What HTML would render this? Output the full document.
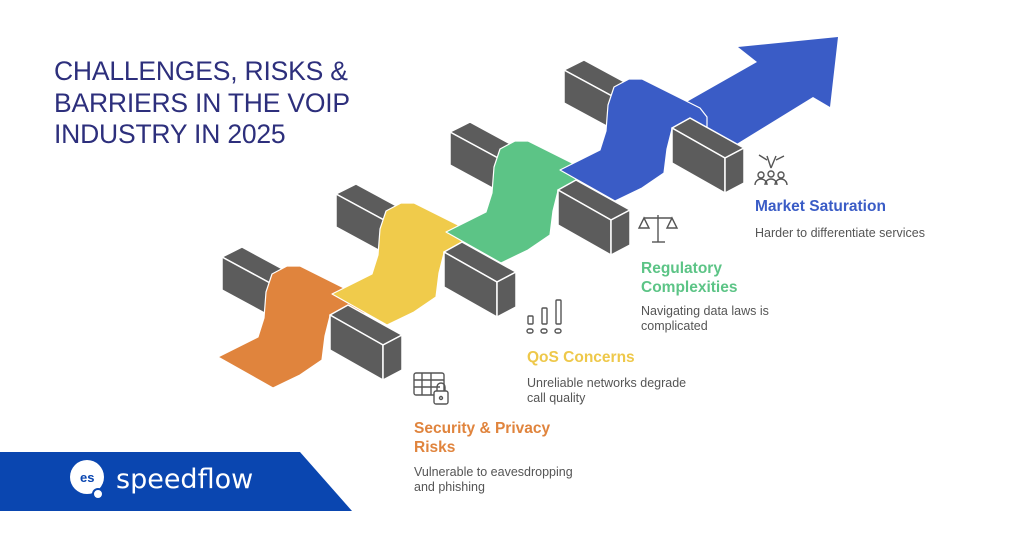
<!DOCTYPE html>
<html><head><meta charset="utf-8"><style>
html,body{margin:0;padding:0;background:#fff;}
body{width:1024px;height:535px;position:relative;overflow:hidden;font-family:"Liberation Sans",sans-serif;}
.t{position:absolute;left:54px;top:56px;font-size:26.5px;line-height:31.5px;color:#2d2f7c;letter-spacing:-0.2px;}
.h{position:absolute;font-weight:bold;font-size:15.5px;line-height:19px;}
.d{position:absolute;font-size:12.5px;line-height:15px;color:#555;}
</style></head><body>
<div class="t">CHALLENGES, RISKS &amp;<br>BARRIERS IN THE VOIP<br>INDUSTRY IN 2025</div>

<svg width="1024" height="535" style="position:absolute;left:0;top:0">
<defs>
<g id="back" stroke="#fff" stroke-width="1.5" stroke-linejoin="round" fill="#5c5c5c">
<polygon points="222,257 242,247 290,273 270,283"/>
<polygon points="222,257 270,283 270,316 222,290"/>
</g>
<g id="front" stroke="#fff" stroke-width="1.5" stroke-linejoin="round" fill="#5c5c5c">
<polygon points="330,315 348,305 402,335 383,345"/>
<polygon points="330,315 383,345 383,380 330,350"/>
<polygon points="383,345 402,335 402,370 383,380"/>
</g>
<polygon id="rib" points="218,357 258,337 264,318 266,292 272,274 287,266 300,266 358,295 365,304 365,318 330,316 325,336 322,360 300,375 273,388" stroke="#fff" stroke-width="1.2" stroke-linejoin="round"/>
</defs>
<g>
<use href="#back"/>
<use href="#rib" fill="#e0843d"/>
<use href="#front"/>
</g>
<g transform="translate(114,-63)">
<use href="#back"/>
<use href="#rib" fill="#f0cb4b"/>
<use href="#front"/>
</g>
<g transform="translate(228,-125)">
<use href="#back"/>
<use href="#rib" fill="#5cc486"/>
<use href="#front"/>
</g>
<g transform="translate(342,-187)">
<use href="#back"/>
</g>
<!-- blue shaft + arrowhead -->
<polygon points="676,108 757,62 738,47 838,37 830,107 813,97 735,145 700,165" fill="#3a5cc6"/>
<g transform="translate(342,-187)">
<use href="#rib" fill="#3a5cc6"/>
<use href="#front"/>
</g>
<!-- banner -->
<polygon points="0,452 300,452 352,511 0,511" fill="#0a46b0"/>
<circle cx="87" cy="477" r="17" fill="#fff"/>
<text x="80" y="482" font-size="13" fill="#0a46b0" font-family="Liberation Sans" font-weight="bold">es</text>
<circle cx="98" cy="494" r="5" fill="#fff" stroke="#0a46b0" stroke-width="2"/>
<text x="116" y="488" font-size="27" fill="#fff" font-family="DejaVu Sans">speedflow</text>
<!-- icons -->
<g fill="none" stroke="#555" stroke-width="1.4">
<rect x="414" y="373" width="30" height="22" rx="2"/>
<line x1="414" y1="380" x2="444" y2="380"/><line x1="414" y1="387" x2="440" y2="387"/>
<line x1="422" y1="373" x2="422" y2="395"/><line x1="431" y1="373" x2="431" y2="395"/>
<rect x="434" y="391" width="14" height="13" rx="2" fill="#fff"/>
<path d="M437 391 v-4 a4 4 0 0 1 8 0 v4"/><circle cx="441" cy="398" r="1.5"/>
<rect x="528" y="316" width="5" height="8" rx="1"/><rect x="542" y="308" width="5" height="16" rx="1"/><rect x="556" y="300" width="5" height="24" rx="1"/>
<rect x="527" y="329" width="6" height="4" rx="2"/><rect x="541" y="329" width="6" height="4" rx="2"/><rect x="555" y="329" width="6" height="4" rx="2"/>
<line x1="658" y1="215" x2="658" y2="242"/><line x1="652" y1="242" x2="665" y2="242"/>
<line x1="644" y1="218" x2="672" y2="218"/>
<path d="M644 218 l-5 10 h10 z"/><path d="M672 218 l-5 10 h10 z"/>
<circle cx="761" cy="175" r="3"/><circle cx="771" cy="174" r="3"/><circle cx="781" cy="175" r="3"/>
<path d="M755 185 a6 6 0 0 1 12 0"/><path d="M765 185 a6 6 0 0 1 12 0"/><path d="M775 185 a6 6 0 0 1 12 0"/>
<path d="M771 168 l-4 -12 M771 168 l5 -12 M767 160 l-8 -5 M776 160 l8 -4"/>
</g>
</svg>

<div class="h" style="left:755px;top:197px;color:#3a5cc6">Market Saturation</div>
<div class="d" style="left:755px;top:226px">Harder to differentiate services</div>
<div class="h" style="left:641px;top:259px;color:#5cc486">Regulatory<br>Complexities</div>
<div class="d" style="left:641px;top:304px">Navigating data laws is<br>complicated</div>
<div class="h" style="left:527px;top:348px;color:#eec84a">QoS Concerns</div>
<div class="d" style="left:527px;top:376px">Unreliable networks degrade<br>call quality</div>
<div class="h" style="left:414px;top:419px;color:#e0843d">Security &amp; Privacy<br>Risks</div>
<div class="d" style="left:414px;top:465px">Vulnerable to eavesdropping<br>and phishing</div>
</body></html>
